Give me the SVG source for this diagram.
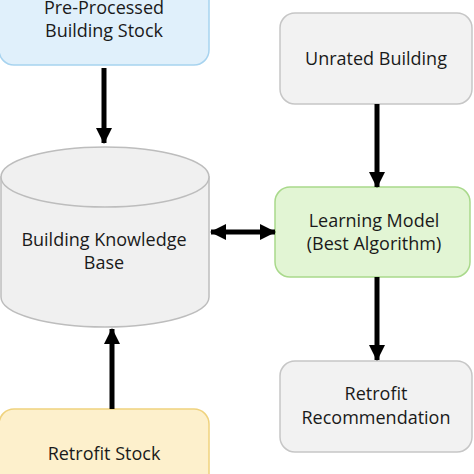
<svg xmlns="http://www.w3.org/2000/svg" width="474" height="474" viewBox="0 0 474 474">
<defs>
<marker id="ah" markerUnits="userSpaceOnUse" markerWidth="16" markerHeight="16" viewBox="0 0 16 16" refX="15" refY="8" orient="auto-start-reverse">
<path d="M0,0 L16,8 L0,16 Z" fill="#000"/>
</marker>
</defs>
<style>
text{font-family:"Open Sans","Noto Sans",sans-serif;font-size:18px;fill:#1a1a1a;text-anchor:middle}
.conn{stroke:#000;stroke-width:5;fill:none}
</style>
<rect width="474" height="474" fill="#fff"/>
<g id="preprocessed">
<rect x="-1" y="-30" width="210" height="95" rx="15" fill="#e0f0fb" stroke="#a7d3ef" stroke-width="1.5"/>
<text x="104" y="14">Pre-Processed</text>
<text x="104" y="37">Building Stock</text>
</g>
<g id="knowledgebase">
<path d="M1,177 L1,297 A104,30 0 0 0 209,297 L209,177 Z" fill="#f0f0f0" stroke="#bdbdbd" stroke-width="1.5"/>
<ellipse cx="105" cy="177" rx="104" ry="30" fill="#f0f0f0" stroke="#bdbdbd" stroke-width="1.5"/>
<text x="104" y="246">Building Knowledge</text>
<text x="104" y="269">Base</text>
</g>
<g id="retrofitstock">
<rect x="-1" y="409" width="210" height="90" rx="15" fill="#fdf0cc" stroke="#efd27e" stroke-width="1.5"/>
<text x="104" y="460">Retrofit Stock</text>
</g>
<g id="unrated">
<rect x="280" y="13" width="192" height="91" rx="15" fill="#f2f2f2" stroke="#c6c6c6" stroke-width="1.5"/>
<text x="376" y="65">Unrated Building</text>
</g>
<g id="learning">
<rect x="275" y="187" width="195" height="90" rx="15" fill="#e2f5d4" stroke="#a9d98b" stroke-width="1.5"/>
<text x="374" y="227">Learning Model</text>
<text x="374" y="250">(Best Algorithm)</text>
</g>
<g id="recommendation">
<rect x="280" y="361" width="192" height="91" rx="15" fill="#f2f2f2" stroke="#c6c6c6" stroke-width="1.5"/>
<text x="376" y="400">Retrofit</text>
<text x="376" y="424">Recommendation</text>
</g>
<g id="connectors">
<line class="conn" x1="104" y1="68" x2="104" y2="143" marker-end="url(#ah)"/>
<line class="conn" x1="112" y1="409" x2="112" y2="329" marker-end="url(#ah)"/>
<line class="conn" x1="377" y1="104" x2="377" y2="187" marker-end="url(#ah)"/>
<line class="conn" x1="377" y1="277" x2="377" y2="360" marker-end="url(#ah)"/>
<line class="conn" stroke-width="4" x1="211" y1="232" x2="275" y2="232" marker-start="url(#ah)" marker-end="url(#ah)"/>
</g>
</svg>
